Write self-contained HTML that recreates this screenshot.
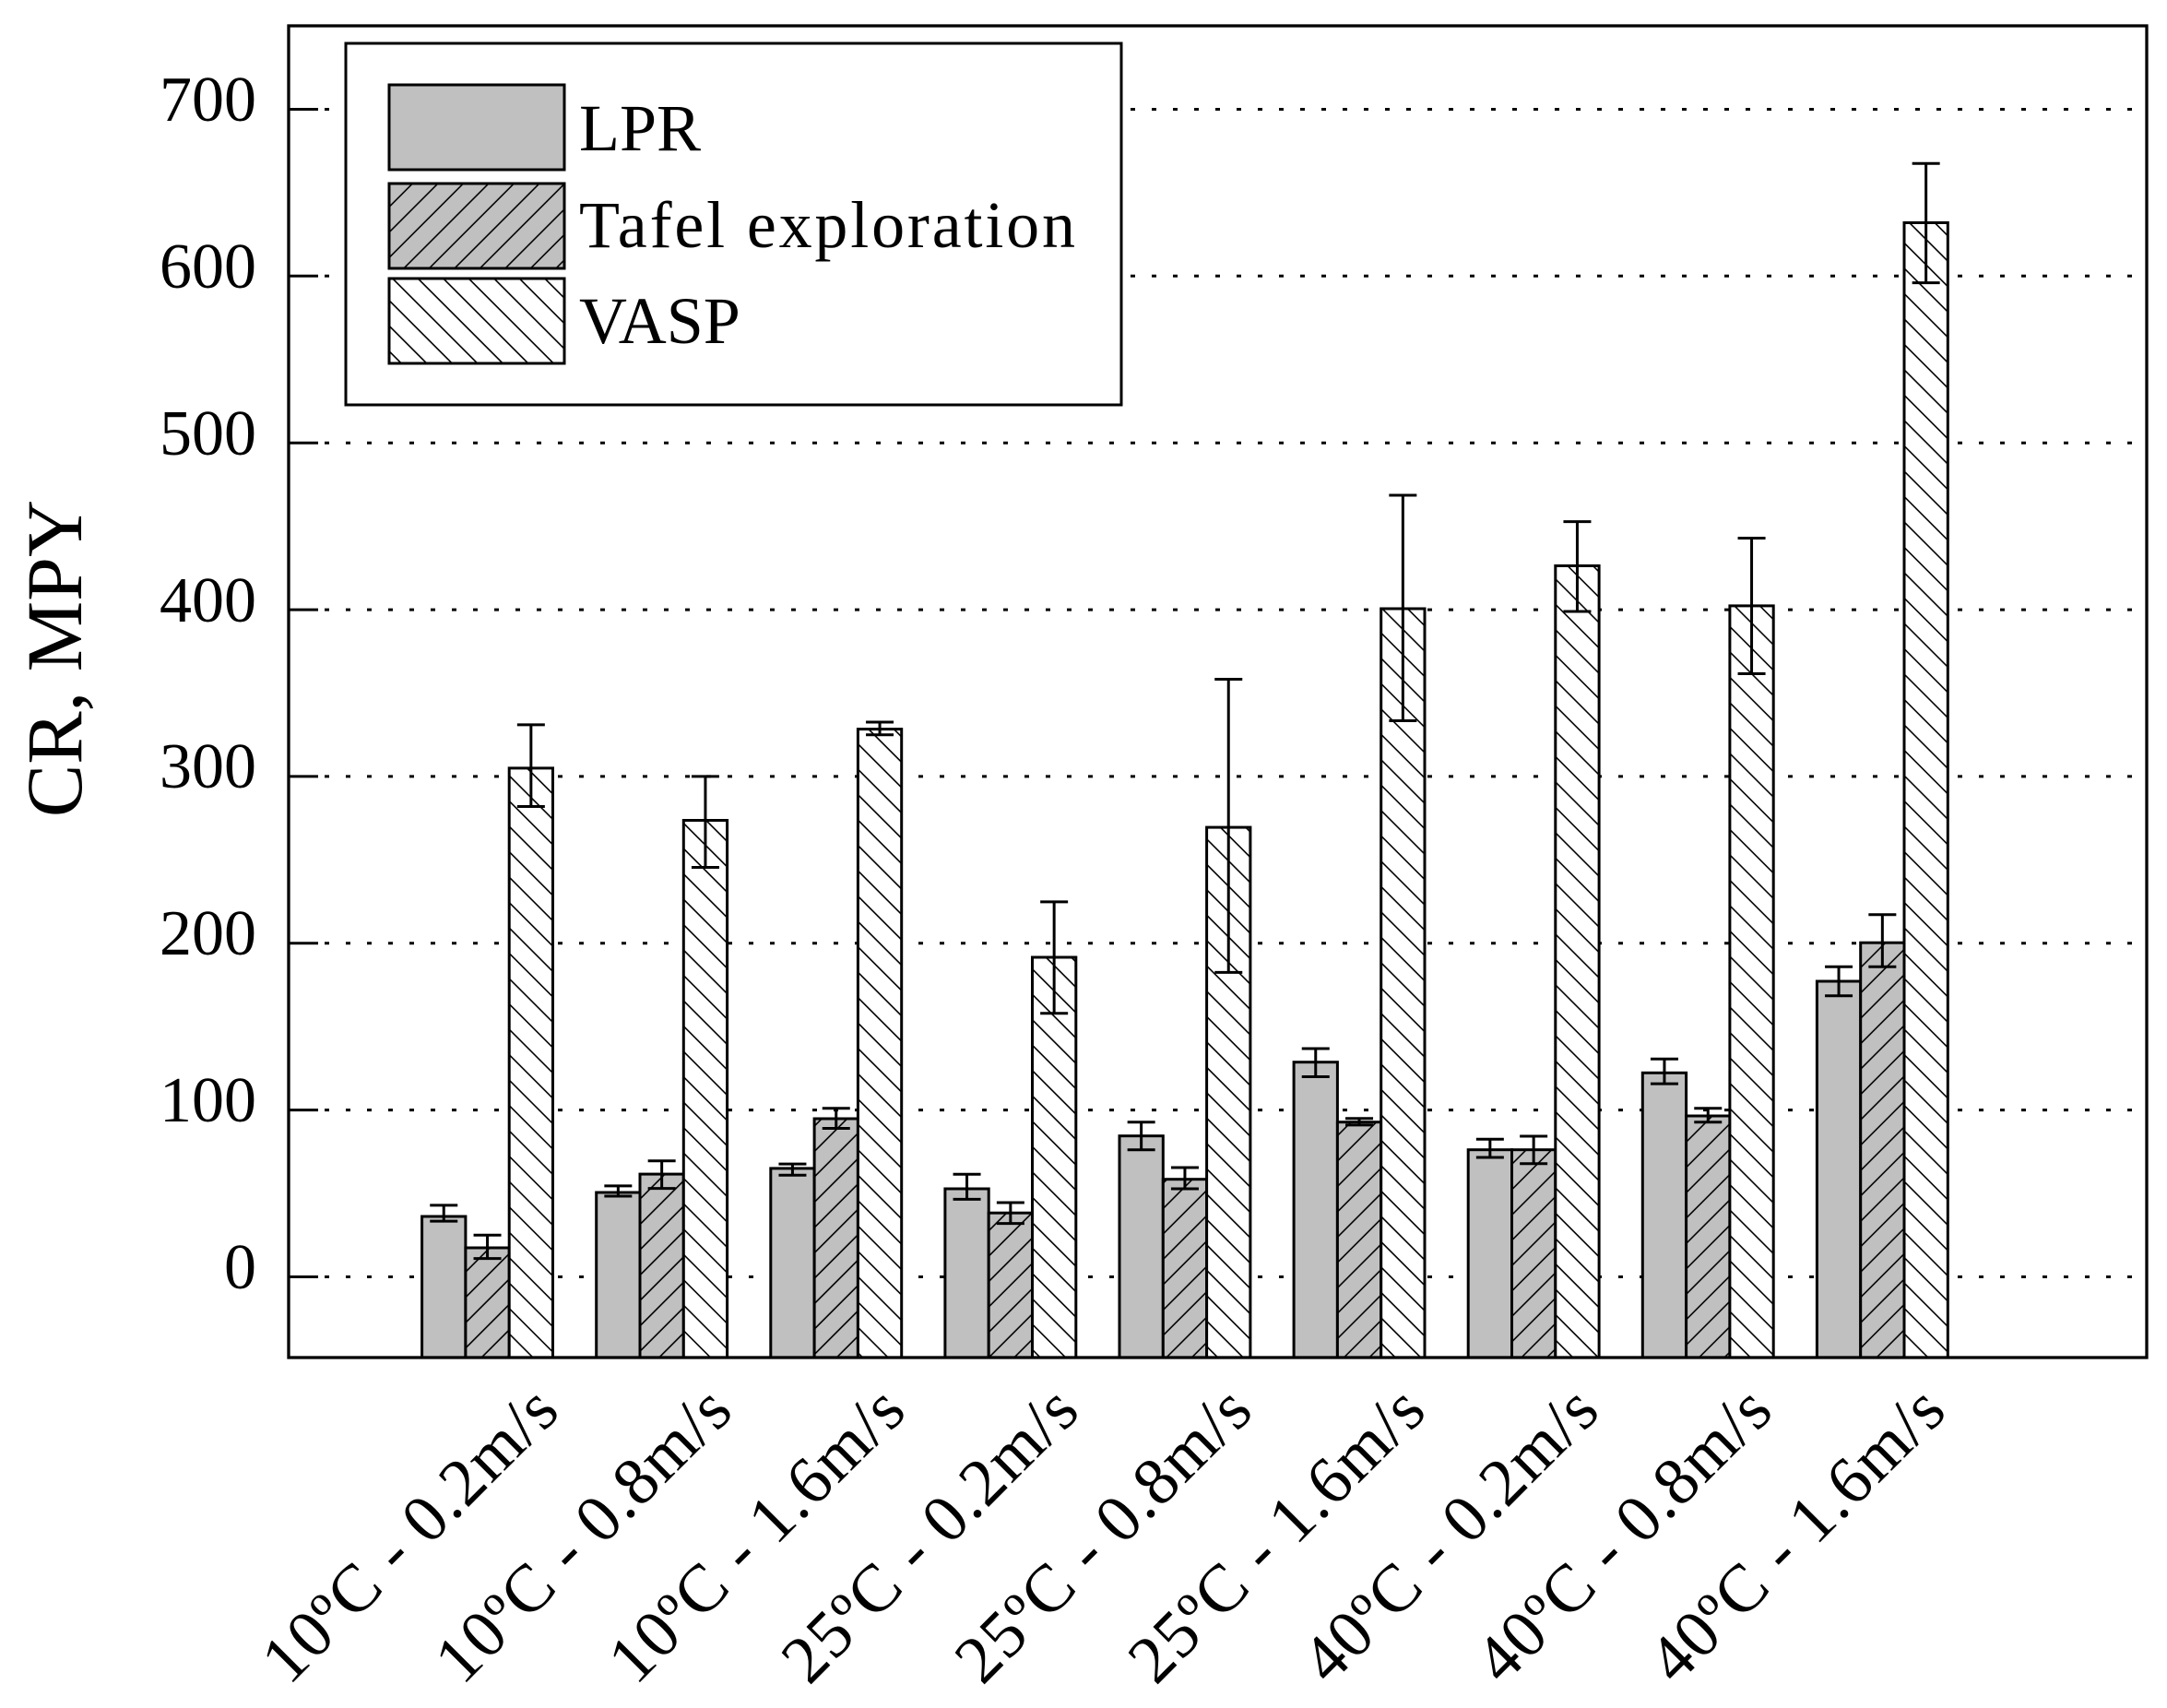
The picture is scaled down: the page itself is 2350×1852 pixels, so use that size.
<!DOCTYPE html>
<html><head><meta charset="utf-8"><style>html,body{margin:0;padding:0;background:#fff}svg{display:block}</style></head>
<body>
<svg xmlns="http://www.w3.org/2000/svg" width="2350" height="1852" viewBox="0 0 2350 1852" font-family="'Liberation Serif', serif">
<defs>
<pattern id="pt" patternUnits="userSpaceOnUse" width="19.45" height="19.45" patternTransform="rotate(45)">
<rect width="19.45" height="19.45" fill="#c0c0c0"/>
<line x1="9.7" y1="-2" x2="9.7" y2="22" stroke="#000" stroke-width="1.6"/>
</pattern>
<pattern id="pv" patternUnits="userSpaceOnUse" width="19.45" height="19.45" patternTransform="rotate(-45)">
<rect width="19.45" height="19.45" fill="#fff"/>
<line x1="9.7" y1="-2" x2="9.7" y2="22" stroke="#000" stroke-width="1.6"/>
</pattern>
</defs>
<rect width="2350" height="1852" fill="#fff"/>

<!-- grid -->
<g stroke="#000" stroke-width="3" stroke-dasharray="5 18" fill="none">
<line x1="352" y1="1384.5" x2="2326" y2="1384.5"/>
<line x1="352" y1="1203.6" x2="2326" y2="1203.6"/>
<line x1="352" y1="1022.8" x2="2326" y2="1022.8"/>
<line x1="352" y1="841.9" x2="2326" y2="841.9"/>
<line x1="352" y1="661.1" x2="2326" y2="661.1"/>
<line x1="352" y1="480.2" x2="2326" y2="480.2"/>
<line x1="352" y1="299.3" x2="2326" y2="299.3"/>
<line x1="352" y1="118.5" x2="2326" y2="118.5"/>
</g>
<g stroke="#000" stroke-width="3">
<line x1="313" y1="1384.5" x2="345" y2="1384.5"/>
<line x1="313" y1="1203.6" x2="345" y2="1203.6"/>
<line x1="313" y1="1022.8" x2="345" y2="1022.8"/>
<line x1="313" y1="841.9" x2="345" y2="841.9"/>
<line x1="313" y1="661.1" x2="345" y2="661.1"/>
<line x1="313" y1="480.2" x2="345" y2="480.2"/>
<line x1="313" y1="299.3" x2="345" y2="299.3"/>
<line x1="313" y1="118.5" x2="345" y2="118.5"/>
</g>

<!-- bars -->
<g stroke="#000" stroke-width="3">
<rect x="457.6" y="1319.0" width="47.3" height="153.0" fill="#c0c0c0"/>
<rect x="504.9" y="1353.0" width="47.3" height="119.0" fill="url(#pt)"/>
<rect x="552.2" y="832.9" width="47.3" height="639.1" fill="url(#pv)"/>
<rect x="646.7" y="1293.0" width="47.3" height="179.0" fill="#c0c0c0"/>
<rect x="694.0" y="1273.1" width="47.3" height="198.9" fill="url(#pt)"/>
<rect x="741.3" y="889.5" width="47.3" height="582.5" fill="url(#pv)"/>
<rect x="835.8" y="1266.9" width="47.3" height="205.1" fill="#c0c0c0"/>
<rect x="883.1" y="1213.0" width="47.3" height="259.0" fill="url(#pt)"/>
<rect x="930.4" y="790.6" width="47.3" height="681.4" fill="url(#pv)"/>
<rect x="1024.9" y="1289.0" width="47.3" height="183.0" fill="#c0c0c0"/>
<rect x="1072.2" y="1315.2" width="47.3" height="156.8" fill="url(#pt)"/>
<rect x="1119.5" y="1038.0" width="47.3" height="434.0" fill="url(#pv)"/>
<rect x="1214.0" y="1231.7" width="47.3" height="240.3" fill="#c0c0c0"/>
<rect x="1261.3" y="1278.7" width="47.3" height="193.3" fill="url(#pt)"/>
<rect x="1308.6" y="897.1" width="47.3" height="574.9" fill="url(#pv)"/>
<rect x="1403.1" y="1151.7" width="47.3" height="320.3" fill="#c0c0c0"/>
<rect x="1450.4" y="1216.7" width="47.3" height="255.3" fill="url(#pt)"/>
<rect x="1497.7" y="660.0" width="47.3" height="812.0" fill="url(#pv)"/>
<rect x="1592.2" y="1246.7" width="47.3" height="225.3" fill="#c0c0c0"/>
<rect x="1639.5" y="1246.7" width="47.3" height="225.3" fill="url(#pt)"/>
<rect x="1686.8" y="613.5" width="47.3" height="858.5" fill="url(#pv)"/>
<rect x="1781.3" y="1163.3" width="47.3" height="308.7" fill="#c0c0c0"/>
<rect x="1828.6" y="1210.0" width="47.3" height="262.0" fill="url(#pt)"/>
<rect x="1875.9" y="656.9" width="47.3" height="815.1" fill="url(#pv)"/>
<rect x="1970.4" y="1064.0" width="47.3" height="408.0" fill="#c0c0c0"/>
<rect x="2017.7" y="1022.2" width="47.3" height="449.8" fill="url(#pt)"/>
<rect x="2065.0" y="241.5" width="47.3" height="1230.5" fill="url(#pv)"/>
</g>

<!-- error bars -->
<g stroke="#000" stroke-width="3" fill="none">
<path d="M466.25 1306.9H496.25M481.25 1306.9V1324.1M466.25 1324.1H496.25"/>
<path d="M513.55 1339.3H543.55M528.55 1339.3V1364.6M513.55 1364.6H543.55"/>
<path d="M560.85 785.9H590.85M575.85 785.9V874.5M560.85 874.5H590.85"/>
<path d="M655.35 1285.9H685.35M670.35 1285.9V1297.0M655.35 1297.0H685.35"/>
<path d="M702.65 1258.8H732.65M717.65 1258.8V1288.6M702.65 1288.6H732.65"/>
<path d="M749.95 841.9H779.95M764.95 841.9V940.5M749.95 940.5H779.95"/>
<path d="M844.45 1262.1H874.45M859.45 1262.1V1274.2M844.45 1274.2H874.45"/>
<path d="M891.75 1201.8H921.75M906.75 1201.8V1223.5M891.75 1223.5H921.75"/>
<path d="M939.05 783.0H969.05M954.05 783.0V796.7M939.05 796.7H969.05"/>
<path d="M1033.55 1273.3H1063.55M1048.55 1273.3V1300.4M1033.55 1300.4H1063.55"/>
<path d="M1080.85 1304.0H1110.85M1095.85 1304.0V1326.6M1080.85 1326.6H1110.85"/>
<path d="M1128.15 977.9H1158.15M1143.15 977.9V1098.7M1128.15 1098.7H1158.15"/>
<path d="M1222.65 1216.7H1252.65M1237.65 1216.7V1246.7M1222.65 1246.7H1252.65"/>
<path d="M1269.95 1266.0H1299.95M1284.95 1266.0V1289.0M1269.95 1289.0H1299.95"/>
<path d="M1317.25 736.5H1347.25M1332.25 736.5V1054.4M1317.25 1054.4H1347.25"/>
<path d="M1411.75 1137.0H1441.75M1426.75 1137.0V1167.5M1411.75 1167.5H1441.75"/>
<path d="M1459.05 1212.7H1489.05M1474.05 1212.7V1219.9M1459.05 1219.9H1489.05"/>
<path d="M1506.35 537.0H1536.35M1521.35 537.0V781.5M1506.35 781.5H1536.35"/>
<path d="M1600.85 1235.3H1630.85M1615.85 1235.3V1255.0M1600.85 1255.0H1630.85"/>
<path d="M1648.15 1232.0H1678.15M1663.15 1232.0V1261.7M1648.15 1261.7H1678.15"/>
<path d="M1695.45 565.6H1725.45M1710.45 565.6V663.0M1695.45 663.0H1725.45"/>
<path d="M1789.95 1148.3H1819.95M1804.95 1148.3V1175.1M1789.95 1175.1H1819.95"/>
<path d="M1837.25 1201.8H1867.25M1852.25 1201.8V1216.7M1837.25 1216.7H1867.25"/>
<path d="M1884.55 583.5H1914.55M1899.55 583.5V730.5M1884.55 730.5H1914.55"/>
<path d="M1979.05 1048.3H2009.05M1994.05 1048.3V1079.8M1979.05 1079.8H2009.05"/>
<path d="M2026.35 991.7H2056.35M2041.35 991.7V1048.3M2026.35 1048.3H2056.35"/>
<path d="M2073.65 177.3H2103.65M2088.65 177.3V306.6M2073.65 306.6H2103.65"/>
</g>

<!-- legend -->
<rect x="375" y="47" width="841" height="392" fill="#fff" stroke="#000" stroke-width="3"/>
<g stroke="#000" stroke-width="3">
<rect x="422" y="92" width="190" height="92" fill="#c0c0c0"/>
<rect x="422" y="199" width="190" height="92" fill="url(#pt)"/>
<rect x="422" y="302" width="190" height="92" fill="url(#pv)"/>
</g>
<g font-size="72" fill="#000">
<text x="628" y="163">LPR</text>
<text x="628" y="268" textLength="538" lengthAdjust="spacing">Tafel exploration</text>
<text x="628" y="372">VASP</text>
</g>

<!-- frame -->
<rect x="313" y="28" width="2015" height="1444" fill="none" stroke="#000" stroke-width="3.3"/>

<!-- y tick labels -->
<g font-size="70" fill="#000" text-anchor="end">
<text x="278" y="1397">0</text>
<text x="278" y="1216">100</text>
<text x="278" y="1035">200</text>
<text x="278" y="854">300</text>
<text x="278" y="674">400</text>
<text x="278" y="493">500</text>
<text x="278" y="312">600</text>
<text x="278" y="131">700</text>
</g>

<!-- y axis title -->
<text x="88" y="714" font-size="86" text-anchor="middle" transform="rotate(-90 88 714)" fill="#000">CR, MPY</text>

<!-- x labels -->
<g font-size="73" fill="#000" text-anchor="end">
<text x="609" y="1533" transform="rotate(-45 609 1533)" textLength="418" lengthAdjust="spacing">10ºC - 0.2m/s</text>
<text x="797" y="1533" transform="rotate(-45 797 1533)" textLength="418" lengthAdjust="spacing">10ºC - 0.8m/s</text>
<text x="985" y="1533" transform="rotate(-45 985 1533)" textLength="418" lengthAdjust="spacing">10ºC - 1.6m/s</text>
<text x="1173" y="1533" transform="rotate(-45 1173 1533)" textLength="418" lengthAdjust="spacing">25ºC - 0.2m/s</text>
<text x="1361" y="1533" transform="rotate(-45 1361 1533)" textLength="418" lengthAdjust="spacing">25ºC - 0.8m/s</text>
<text x="1549" y="1533" transform="rotate(-45 1549 1533)" textLength="418" lengthAdjust="spacing">25ºC - 1.6m/s</text>
<text x="1737" y="1533" transform="rotate(-45 1737 1533)" textLength="418" lengthAdjust="spacing">40ºC - 0.2m/s</text>
<text x="1925" y="1533" transform="rotate(-45 1925 1533)" textLength="418" lengthAdjust="spacing">40ºC - 0.8m/s</text>
<text x="2113" y="1533" transform="rotate(-45 2113 1533)" textLength="418" lengthAdjust="spacing">40ºC - 1.6m/s</text>
</g>
</svg>
</body></html>
